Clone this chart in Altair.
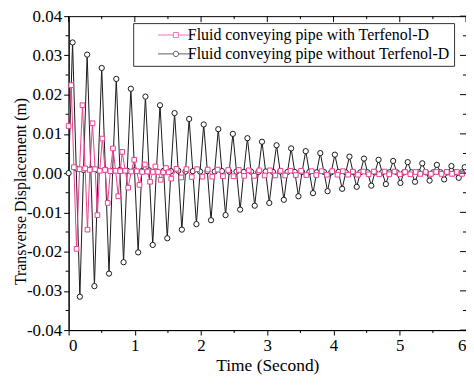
import altair as alt
import pandas as pd

SERIES_WITH = "Fluid conveying pipe with Terfenol-D"
SERIES_WITHOUT = "Fluid conveying pipe without Terfenol-D"

# ---- black series: fluid conveying pipe without Terfenol-D ----
black_peak_t = [0.06, 0.28, 0.50, 0.72, 0.94, 1.16, 1.38, 1.60, 1.82, 2.04, 2.26, 2.48, 2.70, 2.92,
                3.14, 3.36, 3.58, 3.80, 4.02, 4.24, 4.46, 4.68, 4.90, 5.12, 5.34, 5.56, 5.78, 5.98]
black_peak_y = [0.0333, 0.0302, 0.0268, 0.0240, 0.0215, 0.0195, 0.0173, 0.0153, 0.0138, 0.0124,
                0.0112, 0.0100, 0.0089, 0.0080, 0.0071, 0.0063, 0.0056, 0.0051, 0.0047, 0.0042,
                0.0037, 0.0034, 0.0031, 0.0028, 0.0025, 0.0021, 0.0018, 0.0015]
black_trough_t = [0.17, 0.39, 0.61, 0.83, 1.05, 1.27, 1.49, 1.71, 1.93, 2.15, 2.37, 2.59, 2.81, 3.03,
                  3.25, 3.47, 3.69, 3.91, 4.13, 4.35, 4.57, 4.79, 5.01, 5.23, 5.45, 5.67, 5.89]
black_trough_y = [-0.0315, -0.0288, -0.0256, -0.0227, -0.0202, -0.0183, -0.0166, -0.0144, -0.0130,
                  -0.0120, -0.0107, -0.0093, -0.0083, -0.0076, -0.0068, -0.0059, -0.0051, -0.0046,
                  -0.0040, -0.0035, -0.0032, -0.0028, -0.0025, -0.0022, -0.0019, -0.0016, -0.0012]
black_cross_t = [0.00, 0.115, 0.225, 0.335, 0.445, 0.555, 0.665, 0.775, 0.885, 0.995, 1.105, 1.215,
                 1.325, 1.435, 1.545, 1.655, 1.765, 1.875, 1.985, 2.095, 2.205, 2.315, 2.425, 2.535,
                 2.645, 2.755, 2.865, 2.975, 3.085, 3.195, 3.305, 3.415, 3.525, 3.635, 3.745, 3.855,
                 3.965, 4.075, 4.185, 4.295, 4.405, 4.515, 4.625, 4.735, 4.845, 4.955, 5.065, 5.175,
                 5.285, 5.395, 5.505, 5.615, 5.725, 5.835, 5.935]
black_cross_y = [0.0000, 0.0012, 0.0008, 0.0010, 0.0007, 0.0009, 0.0006, 0.0008, 0.0006, 0.0007,
                 0.0005, 0.0007, 0.0005, 0.0006, 0.0005, 0.0006, 0.0004, 0.0005, 0.0004, 0.0005,
                 0.0004, 0.0005, 0.0004, 0.0004, 0.0003, 0.0004, 0.0003, 0.0004, 0.0003, 0.0004,
                 0.0003, 0.0003, 0.0003, 0.0003, 0.0002, 0.0003, 0.0002, 0.0003, 0.0002, 0.0003,
                 0.0002, 0.0002, 0.0002, 0.0002, 0.0002, 0.0002, 0.0002, 0.0002, 0.0002, 0.0002,
                 0.0002, 0.0002, 0.0002, 0.0002, 0.0002]

# ---- pink series: fluid conveying pipe with Terfenol-D ----
pink_peak_t = [0.04, 0.21, 0.36, 0.51, 0.67, 0.81, 0.99, 1.15, 1.31, 1.47, 1.63, 1.78, 1.94, 2.10,
               2.25, 2.41, 2.57, 2.72, 2.88, 3.04, 3.20, 3.35, 3.51, 3.67, 3.82, 3.98, 4.14, 4.29,
               4.45, 4.61, 4.77, 4.92, 5.08, 5.24, 5.39, 5.55, 5.71, 5.86]
pink_peak_y = [0.0224, 0.0173, 0.0127, 0.0088, 0.0063, 0.0054, 0.0034, 0.0022, 0.0017, 0.0013,
               0.0011, 0.0010, 0.0010, 0.0009, 0.0009, 0.0008, 0.0008, 0.0007, 0.0007, 0.0007,
               0.0006, 0.0006, 0.0006, 0.0005, 0.0005, 0.0005, 0.0005, 0.0004, 0.0004, 0.0004,
               0.0004, 0.0004, 0.0003, 0.0003, 0.0003, 0.0003, 0.0003, 0.0003]
pink_trough_t = [0.12, 0.285, 0.435, 0.59, 0.75, 0.90, 1.07, 1.23, 1.39, 1.55, 1.70, 1.86, 2.02,
                 2.17, 2.33, 2.49, 2.65, 2.80, 2.96, 3.12, 3.27, 3.43, 3.59, 3.74, 3.90, 4.06,
                 4.22, 4.37, 4.53, 4.69, 4.84, 5.00, 5.16, 5.31, 5.47, 5.63, 5.79, 5.94]
pink_trough_y = [-0.0193, -0.0144, -0.0107, -0.0076, -0.0059, -0.0037, -0.0030, -0.0022, -0.0017,
                 -0.0014, -0.0011, -0.0010, -0.0009, -0.0009, -0.0008, -0.0008, -0.0007, -0.0007,
                 -0.0006, -0.0006, -0.0006, -0.0005, -0.0005, -0.0005, -0.0004, -0.0004, -0.0004,
                 -0.0004, -0.0003, -0.0003, -0.0003, -0.0003, -0.0003, -0.0002, -0.0002, -0.0002,
                 -0.0002, -0.0002]
pink_cross_t = [0.00, 0.08, 0.165, 0.25, 0.32, 0.40, 0.47, 0.55, 0.63, 0.71, 0.78, 0.855, 0.945,
                1.03, 1.11, 1.19, 1.27, 1.35, 1.43, 1.51]
pink_cross_y = [0.0120, 0.0015, 0.0010, 0.0012, 0.0008, 0.0010, 0.0006, 0.0008, 0.0005, 0.0006,
                0.0005, 0.0006, 0.0004, 0.0005, 0.0003, 0.0004, 0.0003, 0.0003, 0.0002, 0.0002]

# ---- axis ticks ----
x_major = [0, 1, 2, 3, 4, 5, 6]
x_minor = [0.5, 1.5, 2.5, 3.5, 4.5, 5.5]
y_major = [-0.04, -0.03, -0.02, -0.01, 0.0, 0.01, 0.02, 0.03, 0.04]
y_minor = [-0.035, -0.025, -0.015, -0.005, 0.005, 0.015, 0.025, 0.035]

PINK = "#ec3d93"
BLACK = "#1a1a1a"
FONT = "Liberation Serif"
W, H = 400, 316


def series_frame(name, parts):
    rows = []
    for ts, ys in parts:
        rows += [{"t": t, "y": y, "series": name} for t, y in zip(ts, ys)]
    return pd.DataFrame(rows).sort_values("t")


black_df = series_frame(SERIES_WITHOUT, [(black_peak_t, black_peak_y),
                                         (black_trough_t, black_trough_y),
                                         (black_cross_t, black_cross_y)])
pink_df = series_frame(SERIES_WITH, [(pink_peak_t, pink_peak_y),
                                     (pink_trough_t, pink_trough_y),
                                     (pink_cross_t, pink_cross_y)])
all_df = pd.concat([black_df, pink_df])

domain = [SERIES_WITH, SERIES_WITHOUT]
color_scale = alt.Scale(domain=domain, range=[PINK, BLACK])

xs = alt.Scale(domain=[0, 6], nice=False, zero=False)
ys = alt.Scale(domain=[-0.04, 0.04], nice=False, zero=False)

x_axis = alt.Axis(values=x_major, title="Time (Second)", tickSize=5,
                  labelPadding=3, titlePadding=3, format="d", labelOverlap=False,
                  titleFontSize=17.5)
y_axis = alt.Axis(values=y_major, title="Transverse Displacement (m)", tickSize=5,
                  labelPadding=2, labelOverlap=False,
                  titleX=-40, titleY=176, titleFontSize=16,
                  labelExpr="datum.value < 0 ? '-' + format(-datum.value, '.2f') : format(datum.value, '.2f')")


def X(field="t"):
    return alt.X(f"{field}:Q", scale=xs, axis=x_axis)


def Y(field="y"):
    return alt.Y(f"{field}:Q", scale=ys, axis=y_axis)


def line_layer(df, color):
    return alt.Chart(df).mark_line(color=color, strokeWidth=1).encode(x=X(), y=Y())


def point_layer(df, color, shape, size):
    return alt.Chart(df).mark_point(shape=shape, filled=False, fill="white", fillOpacity=1,
                                    stroke=color, strokeWidth=1, size=size, opacity=1).encode(
        x=X(), y=Y())


square_leg = "M-3,0H-0.42M0.42,0H3M-0.42,-0.42H0.42V0.42H-0.42Z"
circle_leg = "M-3,0H-0.45M0.45,0H3M-0.45,0A0.45,0.45,0,1,0,0.45,0A0.45,0.45,0,1,0,-0.45,0Z"

legend_layer = alt.Chart(all_df).transform_filter("false").mark_point(
    filled=False, fill="white", strokeWidth=1).encode(
    x=X(), y=Y(),
    color=alt.Color("series:N", scale=color_scale,
                    legend=alt.Legend(title=None, orient="none", legendX=65, legendY=7,
                                      padding=4, rowPadding=3, symbolOffset=31, labelOffset=4,
                                      strokeColor="#333", fillColor="white",
                                      labelFont=FONT, labelFontSize=16, labelColor="black",
                                      labelLimit=400, symbolSize=144, symbolStrokeWidth=1,
                                      symbolFillColor="white")),
    shape=alt.Shape("series:N", scale=alt.Scale(domain=domain, range=[square_leg, circle_leg])),
)

top_major = alt.Chart(pd.DataFrame({"t": x_major})).mark_rule(color="black").encode(
    x=X(), y=alt.value(0), y2=alt.value(6))
top_minor = alt.Chart(pd.DataFrame({"t": x_minor})).mark_rule(color="black").encode(
    x=X(), y=alt.value(0), y2=alt.value(3))
bottom_minor = alt.Chart(pd.DataFrame({"t": x_minor})).mark_rule(color="black").encode(
    x=X(), y=alt.value(H), y2=alt.value(H + 3))
right_major = alt.Chart(pd.DataFrame({"y": y_major})).mark_rule(color="black").encode(
    y=Y(), x=alt.value(W), x2=alt.value(W - 6))
right_minor = alt.Chart(pd.DataFrame({"y": y_minor})).mark_rule(color="black").encode(
    y=Y(), x=alt.value(W), x2=alt.value(W - 3))
left_minor = alt.Chart(pd.DataFrame({"y": y_minor})).mark_rule(color="black").encode(
    y=Y(), x=alt.value(0), x2=alt.value(-3))

chart = alt.layer(
    line_layer(black_df, BLACK),
    point_layer(black_df, BLACK, "circle", 28),
    line_layer(pink_df, PINK),
    point_layer(pink_df, PINK, "square", 22),
    legend_layer,
    top_major, top_minor, bottom_minor, right_major, right_minor, left_minor,
).properties(
    width=W, height=H,
    autosize=alt.AutoSizeParams(type="none"),
    padding={"left": 61, "top": 7, "right": 0, "bottom": 44},
).configure_view(
    stroke="black", strokeWidth=1
).configure_axis(
    grid=False, domainColor="black", tickColor="black", labelColor="black",
    titleColor="black", labelFont=FONT, titleFont=FONT, labelFontSize=17,
    titleFontWeight="normal"
)

chart.save("out.html", embed_options={"renderer": "svg", "actions": False})
